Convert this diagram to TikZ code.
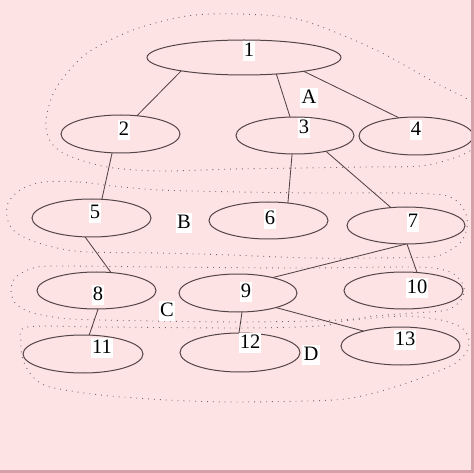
\documentclass[tikz,border=0pt]{standalone}
\usepackage{fontspec}
\setmainfont{Liberation Serif}
\usetikzlibrary{shapes.geometric}
\definecolor{bgpink}{RGB}{253,227,228}
\definecolor{edgepink}{RGB}{214,160,168}
\definecolor{ink}{RGB}{85,68,72}
\definecolor{dotc}{RGB}{115,105,110}
\begin{document}
\begin{tikzpicture}[x=1pt,y=-1pt,
  vert/.style={ellipse,draw=ink,line width=1pt,inner sep=0pt,outer sep=0pt},
  num/.style={fill=white,inner xsep=1.2pt,inner ysep=1.2pt,text height=14.5pt,text depth=4pt,font=\fontsize{20.5}{24}\selectfont},
  edge/.style={draw=ink,line width=0.85pt},
  clusterline/.style={draw=dotc,line width=0.9pt,dash pattern=on 0.9pt off 5pt}]
\useasboundingbox (0,0) rectangle (474,473);
\fill[bgpink] (0,0) rectangle (474,473);
\begin{scope}
\clip (0,0) rectangle (471,470);
% clusters
\draw[clusterline] plot[smooth cycle] coordinates {(240,14) (301,20) (374,49) (434,82) (472,102) (495,125) (474,148) (454,158) (421,166) (367,167) (300,168) (234,169) (160,171) (107,167) (67,155) (50,141) (46,120) (56,88) (86,54) (133,30) (187,16)};
\draw[clusterline] plot[smooth cycle] coordinates {(43,182) (80,182) (113,186) (160,190) (240,192) (320,193) (400,193) (443,195) (458,202) (466,214) (467,228) (461,242) (447,252) (430,257) (370,258) (310,258) (230,255) (160,253) (87,252) (57,248) (30,240) (13,230) (7,217) (8,203) (20,190)};
\draw[clusterline] plot[smooth cycle] coordinates {(53,266) (160,267) (300,268) (400,267) (434,268) (454,274) (464,287) (461,300) (447,310) (414,313) (374,316) (340,320) (240,322) (100,320) (60,318) (30,312) (15,303) (11,290) (15,278) (30,269)};
\draw[clusterline] plot[smooth cycle] coordinates {(27,327) (100,327) (240,328) (320,326) (344,321) (374,318) (407,316) (441,320) (462,328) (469,340) (466,353) (454,364) (434,373) (407,383) (374,393) (334,400) (234,402) (167,400) (100,395) (50,387) (33,377) (23,360) (21,342)};
% vertices
\node[vert,minimum width=194pt,minimum height=35pt] (n1) at (244,57.5) {};
\node[vert,minimum width=119pt,minimum height=38pt] (n2) at (120.5,134) {};
\node[vert,minimum width=118pt,minimum height=37pt] (n3) at (295,135.5) {};
\node[vert,minimum width=114pt,minimum height=38pt] (n4) at (416,136) {};
\node[vert,minimum width=119pt,minimum height=38pt] (n5) at (91.5,218) {};
\node[vert,minimum width=119pt,minimum height=37pt] (n6) at (268.5,220.5) {};
\node[vert,minimum width=118pt,minimum height=37pt] (n7) at (406,225.5) {};
\node[vert,minimum width=119pt,minimum height=37pt] (n8) at (96.5,290.5) {};
\node[vert,minimum width=118pt,minimum height=38pt] (n9) at (238,293) {};
\node[vert,minimum width=119pt,minimum height=37pt] (n10) at (403.5,290.5) {};
\node[vert,minimum width=120pt,minimum height=38pt] (n11) at (83,354) {};
\node[vert,minimum width=120pt,minimum height=39pt] (n12) at (240,352.5) {};
\node[vert,minimum width=119pt,minimum height=38pt] (n13) at (400.5,346) {};
% edges
\draw[edge] (n1.192) -- (n2.48);
\draw[edge] (n1.-27) -- (n3.105);
\draw[edge] (n1.-13) -- (n4.133);
\draw[edge] (n2.246) -- (n5.61);
\draw[edge] (n3.261) -- (n6.42);
\draw[edge] (n3.-27) -- (n7.130);
\draw[edge] (n5.251) -- (n8.51);
\draw[edge] (n7.270) -- (n9.24);
\draw[edge] (n7.273) -- (n10.53);
\draw[edge] (n8.275) -- (n11.72);
\draw[edge] (n9.282) -- (n12.93);
\draw[edge] (n9.-21) -- (n13.158);
% labels
\node[num] (l1) at (249,51) {1};
\node[num] (l2) at (124,130) {2};
\node[num] (l3) at (304,128) {3};
\node[num] (l4) at (416,130) {4};
\node[num] (lA) at (309,98) {A};
\node[num] (l5) at (95,213) {5};
\node[num] (lB) at (184,223) {B};
\node[num] (l6) at (270,219) {6};
\node[num] (l7) at (413,222) {7};
\node[num] (l8) at (98,295) {8};
\node[num] (lC) at (167,311) {C};
\node[num] (l9) at (246,292) {9};
\node[num] (l10) at (417,288) {10};
\node[num] (l11) at (102,348) {11};
\node[num] (l12) at (250,343) {12};
\node[num] (lD) at (311,355) {D};
\node[num] (l13) at (405,340) {13};
\end{scope}
\fill[edgepink] (471,0) rectangle (474,473);
\fill[edgepink] (0,470) rectangle (474,473);
\end{tikzpicture}
\end{document}
